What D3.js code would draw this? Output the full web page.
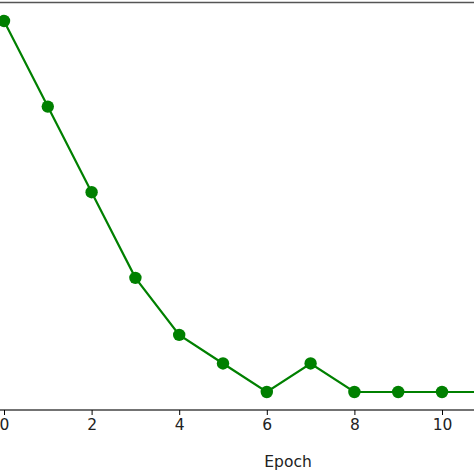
<!DOCTYPE html>
<html><head><script src="https://cdn.jsdelivr.net/npm/d3@7"></script>
<style>body{margin:0;background:#fff}</style></head><body>
<script>
const epochs=[0,1,2,3,4,5,6,7,8,9,10,11];
const losses=[0.85,0.70,0.55,0.40,0.30,0.25,0.20,0.25,0.20,0.20,0.20,0.20];
const xTicks=[0,2,4,6,8,10];
const svg=d3.select("body").append("svg").attr("width",474).attr("height",474);
const x=d3.scaleLinear().domain([0,10]).range([4,442]);
const y=d3.scaleLinear().domain([0.2,0.85]).range([392,21]);
svg.append("line").attr("x1",0).attr("x2",474).attr("y1",2.5).attr("y2",2.5).attr("stroke","#555").attr("stroke-width",1.6);
const ax=svg.append("g").attr("transform","translate(0,410)")
 .call(d3.axisBottom(x).tickValues(xTicks).tickSize(5).tickPadding(4));
ax.select(".domain").attr("d","M-10,0H480").attr("stroke","#444").attr("stroke-width",1.3);
ax.selectAll("text").style("font-family","DejaVu Sans").style("font-size","15.5px").attr("fill","#222");
svg.append("text").attr("x",288).attr("y",467).attr("text-anchor","middle").style("font-family","DejaVu Sans").style("font-size","15.5px").attr("fill","#222").text("Epoch");
const line=d3.line().x((d,i)=>x(epochs[i])).y(d=>y(d));
svg.append("path").datum(losses).attr("d",line).attr("fill","none").attr("stroke","#008000").attr("stroke-width",2.2);
svg.selectAll("circle").data(losses).join("circle").attr("cx",(d,i)=>x(epochs[i])).attr("cy",d=>y(d)).attr("r",6.2).attr("fill","#008000");
</script></body></html>
